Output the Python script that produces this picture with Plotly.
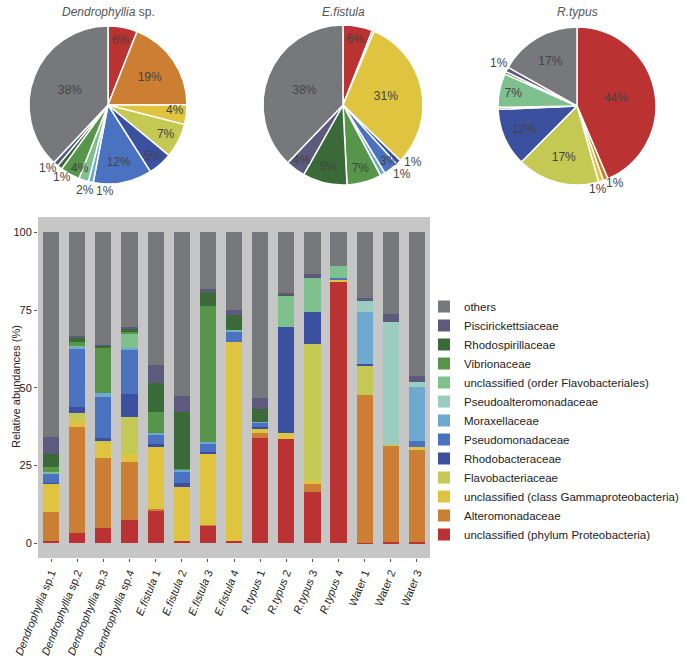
import math
import plotly.graph_objects as go

# ---------------- data ----------------
samples = ["D1", "D2", "D3", "D4", "E1", "E2", "E3", "E4",
           "R1", "R2", "R3", "R4", "W1", "W2", "W3"]
sample_labels = ["<i>Dendrophyllia</i> sp.1", "<i>Dendrophyllia</i> sp.2",
                 "<i>Dendrophyllia</i> sp.3", "<i>Dendrophyllia</i> sp.4",
                 "<i>E.fistula</i> 1", "<i>E.fistula</i> 2", "<i>E.fistula</i> 3", "<i>E.fistula</i> 4",
                 "<i>R.typus</i> 1", "<i>R.typus</i> 2", "<i>R.typus</i> 3", "<i>R.typus</i> 4",
                 "Water 1", "Water 2", "Water 3"]

families = ["unclassified (phylum Proteobacteria)", "Alteromonadaceae",
            "unclassified (class Gammaproteobacteria)", "Flavobacteriaceae",
            "Rhodobacteraceae", "Pseudomonadaceae", "Moraxellaceae",
            "Pseudoalteromonadaceae", "unclassified (order Flavobacteriales)",
            "Vibrionaceae", "Rhodospirillaceae", "Piscirickettsiaceae", "others"]

colors = ["#bb3232", "#cc7e33", "#dfc53f", "#c3c952",
          "#3b51a0", "#4b72c0", "#6ea9d0",
          "#9accc0", "#7fc08f",
          "#56954a", "#3a6a38", "#5e5a7e", "#77787b"]

# relative abundances (%) per sample, bottom to top
proteobacteria  = [0.8, 3.2, 4.8, 7.5, 10.5, 0.8, 5.6, 0.8, 34.0, 33.7, 16.6, 84.1, 0.2, 0.3, 0.3]
alteromonad     = [9.2, 34.1, 22.5, 18.5, 0.5, 0.0, 0.3, 0.0, 1.6, 0.0, 2.5, 0.0, 47.5, 31.0, 29.7]
gammaproteo     = [9.1, 2.0, 5.2, 2.7, 19.9, 17.2, 23.0, 64.0, 1.4, 1.9, 1.1, 0.6, 0.0, 0.3, 0.9]
flavobacteriac  = [0.0, 2.5, 0.3, 12.0, 0.0, 0.0, 0.0, 0.0, 0.0, 0.0, 43.9, 0.0, 9.3, 0.0, 0.0]
rhodobacter     = [0.3, 1.9, 1.0, 7.3, 0.9, 1.5, 0.4, 0.0, 0.3, 33.9, 10.4, 0.0, 0.7, 0.0, 0.0]
pseudomonad     = [2.9, 19.0, 13.1, 14.0, 3.2, 3.5, 2.9, 3.3, 1.5, 0.0, 0.0, 0.7, 0.0, 0.0, 2.0]
moraxell        = [0.3, 0.5, 1.5, 0.7, 0.6, 0.6, 0.3, 0.3, 0.3, 0.0, 0.0, 0.0, 16.8, 0.0, 17.5]
pseudoaltero    = [0.0, 0.0, 0.0, 0.0, 0.0, 0.0, 0.0, 0.0, 0.0, 0.0, 0.0, 0.0, 3.4, 39.5, 1.6]
flavobacteriales = [0.3, 0.3, 0.0, 4.6, 0.0, 0.0, 0.0, 0.3, 0.0, 10.1, 10.7, 3.6, 0.0, 0.0, 0.0]
vibrion         = [1.5, 1.3, 14.6, 0.8, 6.7, 0.3, 43.8, 0.0, 0.0, 0.0, 0.0, 0.0, 0.0, 0.0, 0.0]
rhodospirill    = [4.3, 1.1, 0.6, 0.8, 9.4, 18.4, 4.6, 4.7, 4.0, 0.4, 0.0, 0.0, 0.0, 0.0, 0.0]
piscirickett    = [5.6, 0.9, 0.2, 0.8, 5.6, 5.1, 1.0, 1.6, 3.7, 0.5, 1.3, 0.0, 0.9, 2.5, 1.8]

series = [proteobacteria, alteromonad, gammaproteo, flavobacteriac, rhodobacter,
          pseudomonad, moraxell, pseudoaltero, flavobacteriales, vibrion,
          rhodospirill, piscirickett]
others = [round(100 - sum(s[i] for s in series), 1) for i in range(len(samples))]
series.append(others)

# pie charts: mean composition per host (%), same family order
pie_titles = ["<i>Dendrophyllia</i> sp.", "<i>E.fistula</i>", "<i>R.typus</i>"]
pie_dendro  = [6, 19, 4, 7, 5, 12, 1, 0, 2, 4, 1, 1, 38]
pie_efist   = [6, 0.4, 31, 0, 1, 3, 1, 0, 0, 7, 9, 4, 38]
pie_rtypus  = [44, 1, 1, 17, 12, 0.4, 0, 0, 7, 0, 0.5, 1, 17]
pies = [pie_dendro, pie_efist, pie_rtypus]

# ---------------- figure ----------------
W, H = 685, 662
MB = 104
PH = H - MB  # paper height in px
FONT = "Arial, Liberation Sans, sans-serif"
TXT = "#444444"

def px_x(x):
    return x / W

def px_y(y):
    return (PH - y) / PH

fig = go.Figure()

for name, col, vals in zip(families, colors, series):
    fig.add_trace(go.Bar(x=samples, y=vals, name=name,
                         marker=dict(color=col, line=dict(width=0))))

# pie geometry (centre x, centre y, radius) in px
pie_geo = [(108, 105, 79), (343, 105, 80), (577, 106, 79)]
# small label nudges (px) to mimic the reference placement
nudges = {(0, 11): (0, -5), (0, 10): (10, 0), (0, 8): (5, -2), (0, 6): (17, -3),
          (0, 9): (5, 3), (0, 2): (0, -4),
          (1, 4): (6, -9), (1, 5): (5, 1), (1, 6): (13, -11),
          (2, 1): (5, -8), (2, 2): (-7, -4), (2, 11): (3, -1)}

for p, ((cx, cy, r), vals, title) in enumerate(zip(pie_geo, pies, pie_titles)):
    total = sum(vals)
    txt = [f"{round(v)}%" if v >= 6 else "" for v in vals]
    pos = ["inside" if v >= 6 else "none" for v in vals]
    fig.add_trace(go.Pie(
        values=vals, labels=families, text=txt, textinfo="text",
        textposition=pos, insidetextorientation="horizontal",
        sort=False, direction="clockwise", rotation=0,
        marker=dict(colors=colors, line=dict(color="white", width=1.5)),
        textfont=dict(family=FONT, size=12, color=TXT),
        domain=dict(x=[px_x(cx - r), px_x(cx + r)], y=[px_y(cy + r), px_y(cy - r)]),
        showlegend=False, hoverinfo="label+percent"))
    # labels for the small slices
    cum = 0.0
    for i, v in enumerate(vals):
        if 0.75 <= v < 6:
            mid = (cum + v / 2) / total * 2 * math.pi
            rad = 0.86 * r if v >= 3 else r + 12
            dx, dy = nudges.get((p, i), (0, 0))
            x = cx + rad * math.sin(mid) + dx
            y = cy - rad * math.cos(mid) + dy
            fig.add_annotation(text=f"{round(v)}%", x=px_x(x), y=px_y(y),
                               xref="paper", yref="paper", showarrow=False,
                               xanchor="center", yanchor="middle",
                               font=dict(family=FONT, size=12, color=TXT))
        cum += v
    fig.add_annotation(text=title, x=px_x(cx), y=px_y(12), xref="paper", yref="paper",
                       showarrow=False, xanchor="center", yanchor="middle",
                       font=dict(family=FONT, size=12, color="#555555"))

fig.add_annotation(text="Relative abundances (%)", textangle=-90,
                   x=px_x(16), y=px_y(387), xref="paper", yref="paper",
                   showarrow=False, xanchor="center", yanchor="middle",
                   font=dict(family=FONT, size=11, color="#222222"))

fig.update_layout(
    width=W, height=H,
    margin=dict(l=0, r=0, t=0, b=MB, autoexpand=False),
    paper_bgcolor="white", plot_bgcolor="#c6c6c6",
    barmode="stack", bargap=0.38,
    font=dict(family=FONT, size=11, color="#222222"),
    xaxis=dict(domain=[px_x(38), px_x(430)], tickvals=samples, ticktext=sample_labels,
               tickangle=-68, ticks="outside", ticklen=3, tickcolor="#555555",
               showgrid=False, zeroline=False, automargin=False,
               tickfont=dict(family=FONT, size=11, color="#222222")),
    yaxis=dict(domain=[0, px_y(217)], range=[-4.7, 104.9],
               tickvals=[0, 25, 50, 75, 100], ticks="outside", ticklen=3,
               tickcolor="#555555", showgrid=False, zeroline=False, automargin=False,
               tickfont=dict(family=FONT, size=11, color="#222222")),
    legend=dict(x=px_x(424), y=px_y(292), xanchor="left", yanchor="top",
                traceorder="reversed", font=dict(family=FONT, size=11.5, color="#222222"),
                bgcolor="rgba(0,0,0,0)"),
)

fig.write_html("out.html", config={"displayModeBar": False},
               post_script="document.body.style.margin='0px';document.body.style.overflow='hidden';")
